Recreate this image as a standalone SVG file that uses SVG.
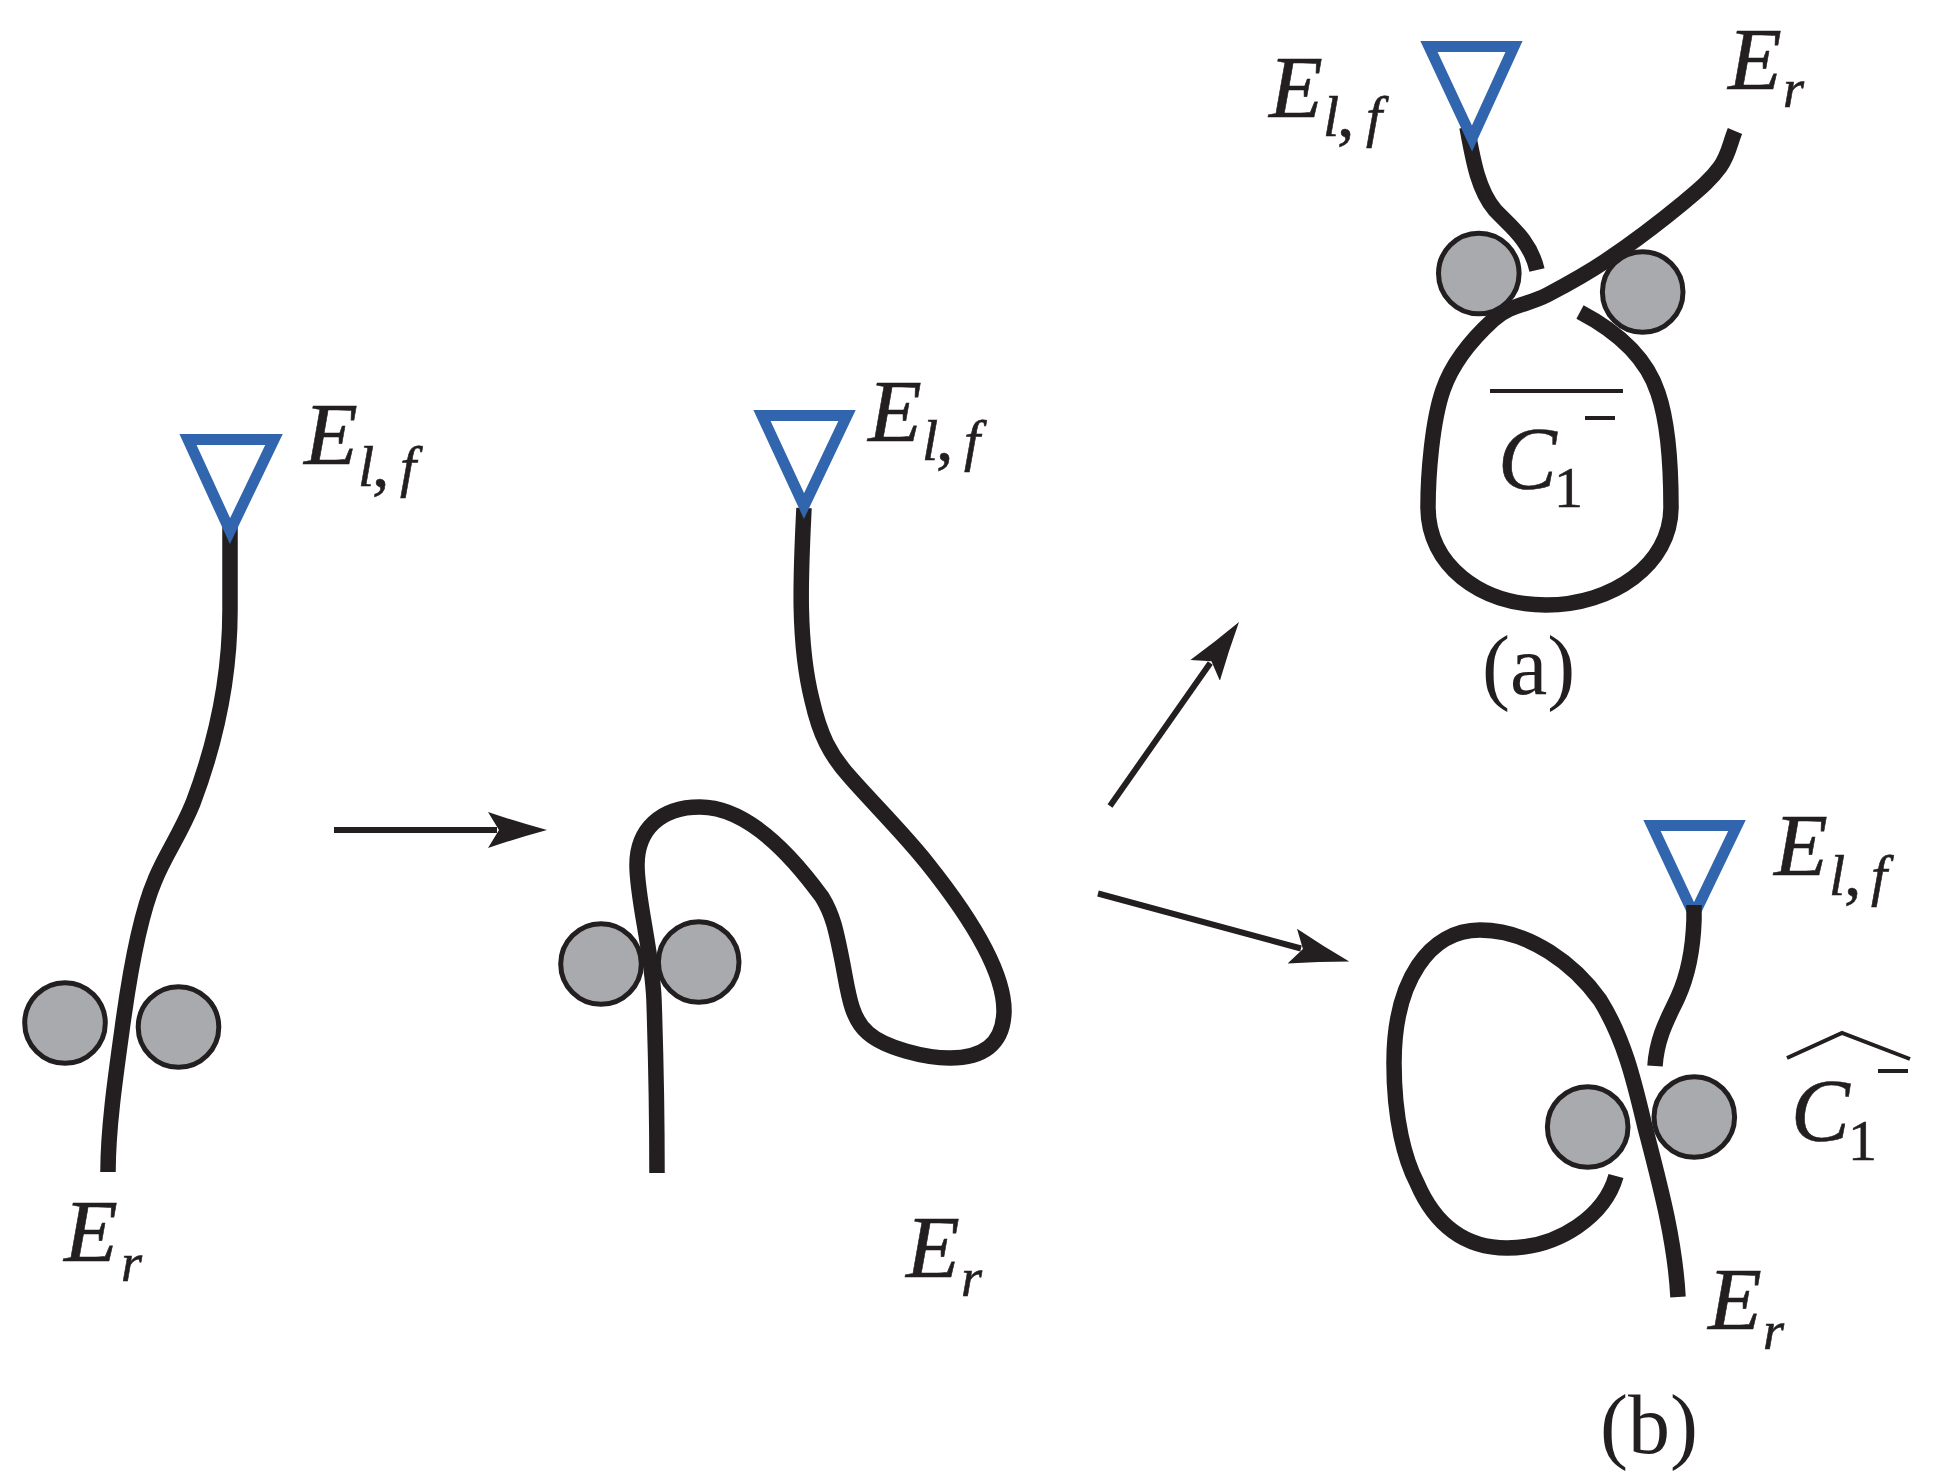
<svg xmlns="http://www.w3.org/2000/svg" width="1951" height="1480" viewBox="0 0 1951 1480">
<style>
.bg{fill:#fff}
.strand{fill:none;stroke:#231f20;stroke-width:15.5;stroke-linecap:butt}
.arrow{fill:none;stroke:#231f20;stroke-width:6}
.rule{fill:none;stroke:#231f20;stroke-width:4}
.tri{fill:none;stroke:#3165ae;stroke-width:11;stroke-miterlimit:10}
.ball{fill:#a9aaad;stroke:#231f20;stroke-width:5}
text{font-family:"Liberation Serif","Times New Roman",serif;fill:#231f20;stroke:#231f20;stroke-width:.6}
.m{font-size:88px;font-style:italic}
.s{font-size:58px;font-style:italic}
.r{font-size:54px;font-style:italic}
.p{font-size:70px;font-style:normal}
.u{font-size:58px;font-style:normal}
.c{font-size:84px;font-style:normal;stroke-width:0}
</style>
<defs>
<marker id="head" markerUnits="userSpaceOnUse" markerWidth="60" markerHeight="40" refX="9" refY="20" orient="auto">
<path d="M0 2Q29.500 12 59 20Q29.500 28 0 38L11 20Z" fill="#231f20"/>
</marker>
</defs>
<rect class="bg" width="1951" height="1480"/>
<g id="tri-b"><polygon class="tri" points="1652,825.500 1737,825.500 1694,915"/></g>
<g id="ball-1a"><circle class="ball" cx="65" cy="1023" r="40.300"/></g>
<g id="ball-1b"><circle class="ball" cx="178.500" cy="1027" r="40.300"/></g>
<g id="ball-2a"><circle class="ball" cx="601" cy="964" r="40.300"/></g>
<g id="ball-2b"><circle class="ball" cx="698.700" cy="962" r="40.300"/></g>
<g id="ball-aa"><circle class="ball" cx="1478.800" cy="273.500" r="40.300"/></g>
<g id="ball-ab"><circle class="ball" cx="1642.700" cy="292" r="40.300"/></g>
<g id="ball-ba"><circle class="ball" cx="1587.700" cy="1127" r="40.300"/></g>
<g id="ball-bb"><circle class="ball" cx="1694.300" cy="1117" r="40.300"/></g>
<g id="connectors">
<path class="strand" d="M230 525V610C230 680 215 745 193 803C180 835 165 855 155 880C140 915 130 970 122 1030C115 1080 108 1130 108 1172"/>
<path class="strand" d="M804 508C801 570 797 640 812 700C820 735 830 755 850 777C870 800 905 835 927 863C955 898 1005 965 1004 1012C1003 1045 982 1058 950 1058C925 1058 885 1048 868 1033C850 1018 848 990 842 960C836 930 833 915 822 897C795 860 750 807 700 807C660 807 637 830 637 865C637 900 652 950 654 1000C656 1060 657 1110 657 1173"/>
<path class="strand" d="M1735 131C1730 143 1728.700 155 1720 167C1711.300 179 1701.800 187.500 1683 203C1664.200 218.500 1629.700 244.700 1607 260C1584.300 275.300 1566 285 1547 295C1528 305 1510.300 304.200 1493 320C1475.700 335.800 1453.800 358.800 1443 390C1432.200 421.200 1428 475 1428 507C1428 565 1480 605 1546 605C1612 605 1671 565 1671 507C1671 470 1668 422 1658 393C1648 362 1622 334 1580 312"/>
<path class="strand" d="M1467 127C1473 160 1478 190 1495 210C1510 226 1530 240 1537 270"/>
<path class="strand" d="M1678 1297C1675 1240 1660 1185 1645 1127C1635 1085 1625 1040 1600 1000C1575 965 1530 930 1480 930C1430 930 1394 980 1394 1063C1394 1120 1405 1160 1417 1183C1435 1225 1465 1248 1507 1248C1560 1248 1605 1215 1616 1176"/>
<path class="strand" d="M1694 905V920C1693 950 1688 975 1678 997C1670 1015 1657 1035 1655 1066"/>
<line class="arrow" x1="334" y1="830" x2="497" y2="830" marker-end="url(#head)"/>
<line class="arrow" x1="1110" y1="806" x2="1210.300" y2="663" marker-end="url(#head)"/>
<line class="arrow" x1="1098" y1="893.500" x2="1301" y2="948.500" marker-end="url(#head)"/>
</g>
<g id="tri-1"><polygon class="tri" points="188,439.500 274,439.500 230,531"/></g>
<g id="tri-2"><polygon class="tri" points="762,415.500 847,415.500 804,506"/></g>
<g id="tri-a"><polygon class="tri" points="1429,46.500 1514,46.500 1472,138.500"/></g>
<g id="label-1-elf"><text class="m" x="304" y="464">E</text><text class="s" x="358" y="486">l</text><text class="p" x="372" y="486">,</text><text class="s" x="400" y="486">f</text></g>
<g id="label-1-er"><text class="m" x="64" y="1261">E</text><text class="r" x="121" y="1281">r</text></g>
<g id="label-2-elf"><text class="m" x="868" y="441">E</text><text class="s" x="922" y="460">l</text><text class="p" x="936" y="460">,</text><text class="s" x="964" y="460">f</text></g>
<g id="label-2-er"><text class="m" x="906" y="1277">E</text><text class="r" x="961" y="1296">r</text></g>
<g id="label-a-elf"><text class="m" x="1269" y="117">E</text><text class="s" x="1323" y="136">l</text><text class="p" x="1337" y="136">,</text><text class="s" x="1366" y="136">f</text></g>
<g id="label-a-er"><text class="m" x="1728" y="89">E</text><text class="r" x="1783" y="107">r</text></g>
<g id="label-a-c">
<line class="rule" x1="1490" y1="391" x2="1623" y2="391"/>
<line class="rule" x1="1585" y1="418" x2="1615" y2="418"/>
<text class="m" x="1498" y="488">C</text><text class="u" x="1554" y="507">1</text></g>
<g id="label-a"><text class="c" x="1482" y="694">(a)</text></g>
<g id="label-b-elf"><text class="m" x="1774" y="875">E</text><text class="s" x="1829" y="895">l</text><text class="p" x="1844" y="895">,</text><text class="s" x="1871" y="895">f</text></g>
<g id="label-b-er"><text class="m" x="1708" y="1329">E</text><text class="r" x="1763" y="1349">r</text></g>
<g id="label-b-c">
<polyline class="rule" points="1787,1058 1842,1033 1910,1059"/>
<line class="rule" x1="1878" y1="1071" x2="1908" y2="1071"/>
<text class="m" x="1791" y="1140">C</text><text class="u" x="1848" y="1160">1</text></g>
<g id="label-b"><text class="c" x="1600" y="1453">(b)</text></g>
</svg>
